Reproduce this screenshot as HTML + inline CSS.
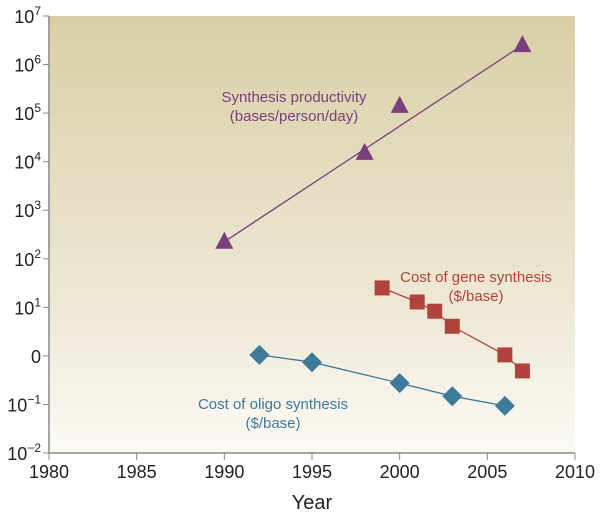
<!DOCTYPE html>
<html><head><meta charset="utf-8"><style>
body{margin:0;background:#fff;font-family:"Liberation Sans",Arial,sans-serif}
svg text{font-family:"Liberation Sans",Arial,sans-serif}
</style></head><body>
<svg width="600" height="518">
<defs><linearGradient id="bg" x1="0" y1="0" x2="0" y2="1">
<stop offset="0" stop-color="#d9cfa6"/><stop offset="0.7" stop-color="#efe9d8"/><stop offset="1" stop-color="#fbfaf5"/></linearGradient></defs>
<rect x="49" y="16" width="526" height="437" fill="url(#bg)"/>
<g id="axes"></g><g id="marks"></g>
<text x="312" y="509" font-size="20" text-anchor="middle" fill="#222">Year</text>
<text x="294" y="102" font-size="15" text-anchor="middle" fill="#7b3f7f">Synthesis productivity</text>
<text x="294" y="121" font-size="15" text-anchor="middle" fill="#7b3f7f">(bases/person/day)</text>
<text x="476" y="282" font-size="15" text-anchor="middle" fill="#b0443c">Cost of gene synthesis</text>
<text x="476" y="301" font-size="15" text-anchor="middle" fill="#b0443c">($/base)</text>
<text x="273" y="409" font-size="15" text-anchor="middle" fill="#3f7a9a">Cost of oligo synthesis</text>
<text x="273" y="428" font-size="15" text-anchor="middle" fill="#3f7a9a">($/base)</text>
</svg>
<script>
const xTicks=[1980,1985,1990,1995,2000,2005,2010];
const yTicks=[7,6,5,4,3,2,1,0,-1,-2];
const yTickLabels=["10^7","10^6","10^5","10^4","10^3","10^2","10^1","0","10^-1","10^-2"];
const prodYears=[1990,1998,2000,2007];
const prodLog=[2.35,4.18,5.15,6.4];
const geneYears=[1999,2001,2002,2003,2006,2007];
const geneLog=[1.4,1.11,0.92,0.61,0.02,-0.31];
const oligoYears=[1992,1995,2000,2003,2006];
const oligoLog=[0.02,-0.13,-0.56,-0.83,-1.03];
const NS="http://www.w3.org/2000/svg";
const X=y=>49+(y-1980)*(526/30);
const Y=l=>16+(7-l)*(437/9);
function mk(t,a,p){const e=document.createElementNS(NS,t);for(const k in a)e.setAttribute(k,a[k]);p.appendChild(e);return e;}
const ax=document.getElementById('axes'),mg=document.getElementById('marks');
let e=mk('line',{x1:49,y1:16,x2:49,y2:453,stroke:'#888','stroke-width':1.5},ax);

e=mk('line',{x1:49,y1:453,x2:575,y2:453,stroke:'#888','stroke-width':1.5},ax);

xTicks.forEach(t=>{mk('line',{x1:X(t),y1:453,x2:X(t),y2:460,stroke:'#888'},ax);
 const tx=mk('text',{x:X(t),y:478,'font-size':18,'text-anchor':'middle',fill:'#222'},ax);tx.textContent=t;
 });
yTicks.forEach((t,i)=>{mk('line',{x1:43,y1:Y(t),x2:49,y2:Y(t),stroke:'#888'},ax);
 const tx=mk('text',{x:41,y:Y(t)+7,'font-size':18,'text-anchor':'end',fill:'#222'},ax);
 
 const lb=yTickLabels[i];
 if(lb==="0"){tx.textContent="0";}else{const p=lb.split('^');tx.textContent=p[0];
  const s=mk('tspan',{dy:-8,'font-size':12},tx);s.textContent=p[1].replace('-','\u2212');}
});
e=mk('line',{x1:X(prodYears[0]),y1:Y(prodLog[0]),x2:X(prodYears[3]),y2:Y(prodLog[3]),stroke:'#7b3f7f','stroke-width':1.3},mg);

e=mk('polyline',{points:geneYears.map((y,i)=>X(y)+','+Y(geneLog[i])).join(' '),fill:'none',stroke:'#b0443c','stroke-width':1.3},mg);

e=mk('polyline',{points:oligoYears.map((y,i)=>X(y)+','+Y(oligoLog[i])).join(' '),fill:'none',stroke:'#3f7a9a','stroke-width':1.3},mg);

prodYears.forEach((y,i)=>{const cx=X(y),cy=Y(prodLog[i]);
 const m=mk('polygon',{points:`${cx},${cy-10} ${cx-9},${cy+7} ${cx+9},${cy+7}`,fill:'#7b3f7f'},mg);
 });
geneYears.forEach((y,i)=>{const cx=X(y),cy=Y(geneLog[i]);
 const m=mk('rect',{x:cx-7.5,y:cy-7.5,width:15,height:15,fill:'#b0443c'},mg);
 });
oligoYears.forEach((y,i)=>{const cx=X(y),cy=Y(oligoLog[i]);
 const m=mk('polygon',{points:`${cx},${cy-10} ${cx+10},${cy} ${cx},${cy+10} ${cx-10},${cy}`,fill:'#3f7a9a'},mg);
 });
</script>
</body></html>
